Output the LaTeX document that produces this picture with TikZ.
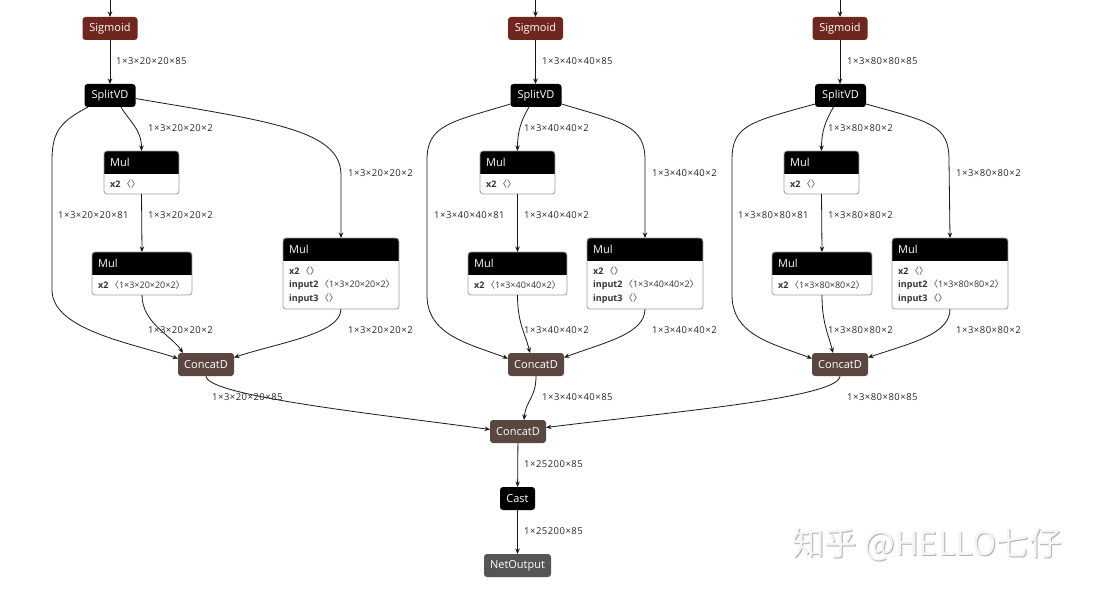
\documentclass[tikz,border=0pt]{standalone}
\usepackage{fontspec}
\setmainfont{Open Sans}
\newfontfamily\cjkf{Noto Sans CJK SC}
\newfontfamily\labf[LetterSpace=5]{Open Sans}
\usetikzlibrary{arrows.meta}
\definecolor{sigc}{RGB}{110,38,30}
\definecolor{catc}{RGB}{92,70,64}
\definecolor{outc}{RGB}{85,85,85}
\newcommand\lbk{{\cjkf 〈}}
\newcommand\rbk{{\cjkf 〉}}
\newcommand\mulbox[5]{%
  \node[mulouter, minimum width=#4pt, minimum height=#5pt] (#1) at (#2,#3) {};
  \begin{scope}
    \clip[rounded corners=3pt] (#1.south west) rectangle (#1.north east);
    \fill[black] (#1.north west) rectangle ([yshift=-23pt]#1.north east);
  \end{scope}
  \draw[gray!75, rounded corners=3pt, line width=0.8pt] (#1.south west) rectangle (#1.north east);
  \node[multitle] (#1-t) at ([xshift=6pt,yshift=-11.5pt]#1.north west) {Mul};
}
\tikzset{
  op/.style={rounded corners=3pt, minimum height=23pt, inner sep=0pt, outer sep=0pt,
    text=white, font=\fontsize{11}{12}\selectfont},
  sig/.style={op, fill=sigc, minimum width=55pt},
  spl/.style={op, fill=black, minimum width=51pt},
  cat/.style={op, fill=catc, minimum width=56pt},
  castbox/.style={op, fill=black, minimum width=35pt},
  outbox/.style={op, fill=outc, minimum width=67pt},
  mulouter/.style={fill=white, rounded corners=3pt, inner sep=0pt, outer sep=0pt},
  multitle/.style={anchor=west, inner sep=0pt, text=white, font=\fontsize{11}{12}\selectfont},
  bodytxt/.style={anchor=west, inner sep=0pt, text=black!80, font=\fontsize{9}{10}\selectfont},
  lab/.style={anchor=west, inner sep=0pt, text=black!85, font=\labf\fontsize{9.5}{10}\selectfont},
  arr/.style={draw=black!90, line width=0.8pt, -{Stealth[length=5.5pt,width=4.5pt]}},
}
\begin{document}
\begin{tikzpicture}[x=1pt,y=-1pt]
\useasboundingbox (0,0) rectangle (1094,591);
\fill[white] (0,0) rectangle (1094,591);

% ---------------- left column ----------------
\coordinate (in1) at (110,0);
\node[sig] (s1) at (110,28.5) {Sigmoid};
\node[spl] (sp1) at (110,95.5) {SplitVD};
\mulbox{m11}{141.5}{172.5}{75}{43}
\node[bodytxt] (m11-a) at ([xshift=6pt,yshift=-33pt]m11.north west) {\textbf{x2}\,\lbk\rbk};
\mulbox{m12}{142}{273.5}{100}{43}
\node[bodytxt] (m12-a) at ([xshift=6pt,yshift=-33pt]m12.north west) {\textbf{x2}\,\lbk 1×3×20×20×2\rbk};
\mulbox{m13}{341}{273.5}{116}{71}
\node[bodytxt] (m13-a) at ([xshift=6pt,yshift=-33pt]m13.north west) {\textbf{x2}\,\lbk\rbk};
\node[bodytxt] (m13-b) at ([xshift=6pt,yshift=-47pt]m13.north west) {\textbf{input2}\,\lbk 1×3×20×20×2\rbk};
\node[bodytxt] (m13-c) at ([xshift=6pt,yshift=-61pt]m13.north west) {\textbf{input3}\,\lbk\rbk};
\node[cat] (c1) at (206,364.5) {ConcatD};

% ---------------- middle column ----------------
\coordinate (in2) at (535.5,0);
\node[sig] (s2) at (535.5,28.5) {Sigmoid};
\node[spl] (sp2) at (536,95.5) {SplitVD};
\mulbox{m21}{517.5}{172.5}{75}{43}
\node[bodytxt] (m21-a) at ([xshift=6pt,yshift=-33pt]m21.north west) {\textbf{x2}\,\lbk\rbk};
\mulbox{m22}{517.5}{273.5}{99}{43}
\node[bodytxt] (m22-a) at ([xshift=6pt,yshift=-33pt]m22.north west) {\textbf{x2}\,\lbk 1×3×40×40×2\rbk};
\mulbox{m23}{645}{273.5}{116}{71}
\node[bodytxt] (m23-a) at ([xshift=6pt,yshift=-33pt]m23.north west) {\textbf{x2}\,\lbk\rbk};
\node[bodytxt] (m23-b) at ([xshift=6pt,yshift=-47pt]m23.north west) {\textbf{input2}\,\lbk 1×3×40×40×2\rbk};
\node[bodytxt] (m23-c) at ([xshift=6pt,yshift=-61pt]m23.north west) {\textbf{input3}\,\lbk\rbk};
\node[cat] (c2) at (536,364.5) {ConcatD};

% ---------------- right column ----------------
\coordinate (in3) at (840,0);
\node[sig] (s3) at (840,28.5) {Sigmoid};
\node[spl] (sp3) at (840.5,95.5) {SplitVD};
\mulbox{m31}{821.5}{172.5}{75}{43}
\node[bodytxt] (m31-a) at ([xshift=6pt,yshift=-33pt]m31.north west) {\textbf{x2}\,\lbk\rbk};
\mulbox{m32}{822}{273.5}{100}{43}
\node[bodytxt] (m32-a) at ([xshift=6pt,yshift=-33pt]m32.north west) {\textbf{x2}\,\lbk 1×3×80×80×2\rbk};
\mulbox{m33}{950}{273.5}{116}{71}
\node[bodytxt] (m33-a) at ([xshift=6pt,yshift=-33pt]m33.north west) {\textbf{x2}\,\lbk\rbk};
\node[bodytxt] (m33-b) at ([xshift=6pt,yshift=-47pt]m33.north west) {\textbf{input2}\,\lbk 1×3×80×80×2\rbk};
\node[bodytxt] (m33-c) at ([xshift=6pt,yshift=-61pt]m33.north west) {\textbf{input3}\,\lbk\rbk};
\node[cat] (c3) at (840,364.5) {ConcatD};

% ---------------- bottom ----------------
\node[cat] (f) at (518,431.5) {ConcatD};
\node[castbox] (cast) at (517.5,498.5) {Cast};
\node[outbox] (out) at (517.5,565.5) {NetOutput};

% ---------------- edges left ----------------
\draw[arr] (in1) -- (s1);
\draw[arr] (s1) -- (sp1);
\draw[arr] ([xshift=11pt]sp1.south) .. controls +(8,14) and +(0,-22) .. (m11.north);
\draw[arr] ([yshift=-3pt]sp1.east) .. controls +(135,23) and +(0,-45) .. (341,175) -- (m13.north);
\draw[arr] ([xshift=-22pt]sp1.south) .. controls +(-26,14) and +(0,-30) .. (52,160) -- (52,290)
  .. controls +(0,40) and +(-45,-15) .. ([yshift=6pt]c1.west);
\draw[arr] (m11.south) -- (m12.north);
\draw[arr] (m12.south) .. controls +(0,28) and +(-12,-18) .. ([xshift=-23pt]c1.north);
\draw[arr] (m13.south) .. controls +(0,25) and +(45,-15) .. ([yshift=7pt]c1.east);
\draw[arr] (c1.south) .. controls +(0,20) and +(-110,-15) .. ([yshift=2pt]f.west);

% ---------------- edges middle ----------------
\draw[arr] (in2) -- (s2);
\draw[arr] (s2) -- ([xshift=-0.5pt]sp2.north);
\draw[arr] ([xshift=-7pt]sp2.south) .. controls +(-8,14) and +(0,-20) .. (m21.north);
\draw[arr] ([yshift=3pt]sp2.south east) .. controls +(60,18) and +(0,-35) .. (645,160) -- (m23.north);
\draw[arr] ([yshift=3pt]sp2.south west) .. controls +(-60,18) and +(0,-35) .. (427,160) -- (427,295)
  .. controls +(0,40) and +(-40,-15) .. ([yshift=6pt]c2.west);
\draw[arr] (m21.south) -- (m22.north);
\draw[arr] (m22.south) .. controls +(0,28) and +(-5,-20) .. ([xshift=-6pt]c2.north);
\draw[arr] (m23.south) .. controls +(0,25) and +(40,-15) .. ([yshift=7pt]c2.east);
\draw[arr] (c2.south) .. controls +(0,22) and +(2,-20) .. ([xshift=6pt]f.north);

% ---------------- edges right ----------------
\draw[arr] (in3) -- (s3);
\draw[arr] (s3) -- ([xshift=-0.5pt]sp3.north);
\draw[arr] ([xshift=-7pt]sp3.south) .. controls +(-8,14) and +(0,-20) .. (m31.north);
\draw[arr] ([yshift=3pt]sp3.south east) .. controls +(65,18) and +(0,-35) .. (949,160) -- (m33.north);
\draw[arr] ([yshift=3pt]sp3.south west) .. controls +(-65,18) and +(0,-35) .. (732,160) -- (732,295)
  .. controls +(0,40) and +(-40,-15) .. ([yshift=6pt]c3.west);
\draw[arr] (m31.south) -- (m32.north);
\draw[arr] (m32.south) .. controls +(0,28) and +(-5,-20) .. ([xshift=-7pt]c3.north);
\draw[arr] (m33.south) .. controls +(0,25) and +(45,-15) .. ([yshift=7pt]c3.east);
\draw[arr] (c3.south) .. controls +(0,22) and +(120,-15) .. ([yshift=4pt]f.east);

% ---------------- bottom edges ----------------
\draw[arr] (f) -- (cast);
\draw[arr] (cast) -- (out);

% ---------------- labels ----------------
\node[lab] (l1a) at (116,61) {1×3×20×20×85};
\node[lab] (l1b) at (148,128) {1×3×20×20×2};
\node[lab] (l1c) at (348,173) {1×3×20×20×2};
\node[lab] (l1d) at (58,215) {1×3×20×20×81};
\node[lab] (l1e) at (148,215) {1×3×20×20×2};
\node[lab] (l1f) at (148,330) {1×3×20×20×2};
\node[lab] (l1g) at (348,330) {1×3×20×20×2};
\node[lab] (l1h) at (212,397) {1×3×20×20×85};

\node[lab] (l2a) at (542,61) {1×3×40×40×85};
\node[lab] (l2b) at (524,128) {1×3×40×40×2};
\node[lab] (l2c) at (652,173) {1×3×40×40×2};
\node[lab] (l2d) at (434,215) {1×3×40×40×81};
\node[lab] (l2e) at (524,215) {1×3×40×40×2};
\node[lab] (l2f) at (524,330) {1×3×40×40×2};
\node[lab] (l2g) at (652,330) {1×3×40×40×2};
\node[lab] (l2h) at (542,397) {1×3×40×40×85};

\node[lab] (l3a) at (847,61) {1×3×80×80×85};
\node[lab] (l3b) at (828,128) {1×3×80×80×2};
\node[lab] (l3c) at (956,173) {1×3×80×80×2};
\node[lab] (l3d) at (738,215) {1×3×80×80×81};
\node[lab] (l3e) at (828,215) {1×3×80×80×2};
\node[lab] (l3f) at (828,330) {1×3×80×80×2};
\node[lab] (l3g) at (956,330) {1×3×80×80×2};
\node[lab] (l3h) at (847,397) {1×3×80×80×85};

\node[lab] (l4a) at (524,464) {1×25200×85};
\node[lab] (l4b) at (524,531) {1×25200×85};

% ---------------- watermark ----------------
\node[anchor=west, inner sep=0pt, text=gray!60, font=\cjkf\fontsize{32.5}{34}\selectfont] (wms) at (793,546) {知乎 @HELLO七仔};
\node[anchor=west, inner sep=0pt, text=gray!8, font=\cjkf\fontsize{32.5}{34}\selectfont] (wm) at (792,545) {知乎 @HELLO七仔};
\end{tikzpicture}
\end{document}
